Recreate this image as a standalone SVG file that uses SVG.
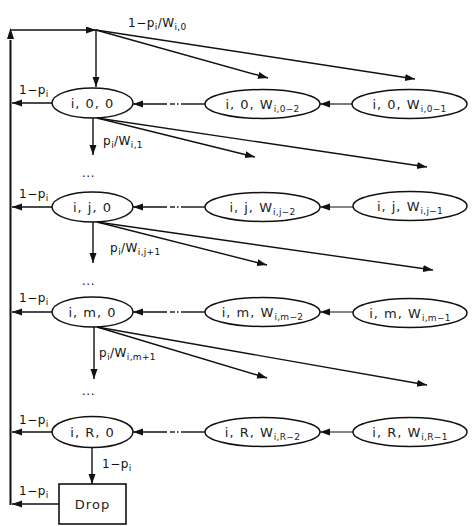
<svg xmlns="http://www.w3.org/2000/svg" width="474" height="526" viewBox="0 0 474 526">
<defs>
<marker id="ah" markerWidth="11" markerHeight="8" refX="10" refY="3.5" orient="auto" markerUnits="userSpaceOnUse">
<path d="M0,0 L10,3.5 L0,7 z" fill="#111"/>
</marker>
<style>
.ln{stroke:#111;stroke-width:1.4;fill:none}
.ar{stroke:#111;stroke-width:1.4;fill:none;marker-end:url(#ah)}
.el{fill:#fff;stroke:#111;stroke-width:1.5}
.nt{font-family:"DejaVu Sans",sans-serif;font-size:13px;letter-spacing:1px;fill:#222;text-anchor:middle}
.lb{font-family:"DejaVu Sans",sans-serif;font-size:12px;letter-spacing:0.5px;fill:#111}
.sb{font-size:9px;letter-spacing:0.3px}
</style>
</defs>
<rect width="474" height="526" fill="#fff"/>
<g id="connectors">
<line class="ln" x1="10.5" y1="505" x2="10.5" y2="40" style="stroke-width:2"/>
<path d="M10.5,28 L14,39 L7,39 z" fill="#111"/>
<line class="ar" x1="10" y1="30" x2="96" y2="30"/>
<line class="ar" x1="96" y1="30" x2="96" y2="87"/>
<line class="ar" x1="96" y1="30" x2="268" y2="78"/>
<line class="ar" x1="96" y1="30" x2="415" y2="79"/>
<line class="ar" x1="52" y1="103" x2="12" y2="103"/>
<line class="ar" x1="52" y1="207" x2="12" y2="207"/>
<line class="ar" x1="52" y1="312" x2="12" y2="312"/>
<line class="ar" x1="52" y1="432" x2="12" y2="432"/>
<line class="ar" x1="59" y1="504" x2="12" y2="504"/>
<line class="ar" x1="93" y1="118" x2="93" y2="155"/>
<line class="ar" x1="97" y1="118" x2="255" y2="157"/>
<line class="ar" x1="97" y1="118" x2="427" y2="167"/>
<line class="ar" x1="93" y1="222" x2="93" y2="263"/>
<line class="ar" x1="97" y1="222" x2="267" y2="265"/>
<line class="ar" x1="97" y1="222" x2="433" y2="270"/>
<line class="ar" x1="94" y1="327" x2="94" y2="379"/>
<line class="ar" x1="97" y1="327" x2="267" y2="378"/>
<line class="ar" x1="97" y1="327" x2="427" y2="385"/>
<line class="ar" x1="92" y1="448" x2="92" y2="484"/>
<g id="dots">
<line class="ln" x1="205" y1="104" x2="181" y2="104"/><line class="ln" x1="178.5" y1="104" x2="177" y2="104"/><line class="ln" x1="175" y1="104" x2="170" y2="104"/><line class="ar" x1="167" y1="104" x2="133" y2="104"/>
<line class="ln" x1="205" y1="207" x2="181" y2="207"/><line class="ln" x1="178.5" y1="207" x2="177" y2="207"/><line class="ln" x1="175" y1="207" x2="170" y2="207"/><line class="ar" x1="167" y1="207" x2="133" y2="207"/>
<line class="ln" x1="205" y1="312" x2="181" y2="312"/><line class="ln" x1="178.5" y1="312" x2="177" y2="312"/><line class="ln" x1="175" y1="312" x2="170" y2="312"/><line class="ar" x1="167" y1="312" x2="133" y2="312"/>
<line class="ln" x1="205" y1="432" x2="181" y2="432"/><line class="ln" x1="178.5" y1="432" x2="177" y2="432"/><line class="ln" x1="175" y1="432" x2="170" y2="432"/><line class="ar" x1="167" y1="432" x2="133" y2="432"/>
</g>
<line class="ar" x1="352" y1="104" x2="320" y2="104" style="stroke-width:1.1"/>
<line class="ar" x1="353" y1="207" x2="320" y2="207" style="stroke-width:1.1"/>
<line class="ar" x1="353" y1="312" x2="320" y2="312" style="stroke-width:1.1"/>
<line class="ar" x1="353" y1="432" x2="320" y2="432" style="stroke-width:1.1"/>
</g>
<g id="labels">
<text class="lb" x="128" y="27">1−p<tspan class="sb" dy="3">i</tspan><tspan dy="-3">/W</tspan><tspan class="sb" dy="3">i,0</tspan></text>
<text class="lb" x="19" y="94">1−p<tspan class="sb" dy="3">i</tspan></text>
<text class="lb" x="19" y="198">1−p<tspan class="sb" dy="3">i</tspan></text>
<text class="lb" x="19" y="302">1−p<tspan class="sb" dy="3">i</tspan></text>
<text class="lb" x="19" y="424">1−p<tspan class="sb" dy="3">i</tspan></text>
<text class="lb" x="19" y="495">1−p<tspan class="sb" dy="3">i</tspan></text>
<text class="lb" x="103" y="145">p<tspan class="sb" dy="3">i</tspan><tspan dy="-3">/W</tspan><tspan class="sb" dy="3">i,1</tspan></text>
<text class="lb" x="110" y="252">p<tspan class="sb" dy="3">i</tspan><tspan dy="-3">/W</tspan><tspan class="sb" dy="3">i,j+1</tspan></text>
<text class="lb" x="99" y="357">p<tspan class="sb" dy="3">i</tspan><tspan dy="-3">/W</tspan><tspan class="sb" dy="3">i,m+1</tspan></text>
<text class="lb" x="102" y="468">1−p<tspan class="sb" dy="3">i</tspan></text>
<text class="lb" x="82" y="177">...</text>
<text class="lb" x="82" y="285">...</text>
<text class="lb" x="82" y="395">...</text>
</g>
<g id="n-i00"><ellipse class="el" cx="92.5" cy="103" rx="40.5" ry="15"/><text class="nt" x="92.5" y="108">i, 0, 0</text></g>
<g id="n-i0w2"><ellipse class="el" cx="262.5" cy="104" rx="57.5" ry="14.5"/><text class="nt" x="262.5" y="109">i, 0, W<tspan class="sb" dy="3">i,0−2</tspan></text></g>
<g id="n-i0w1"><ellipse class="el" cx="409.5" cy="104" rx="57.5" ry="14.5"/><text class="nt" x="409.5" y="109">i, 0, W<tspan class="sb" dy="3">i,0−1</tspan></text></g>
<g id="n-ij0"><ellipse class="el" cx="92.5" cy="207" rx="40.5" ry="15"/><text class="nt" x="92.5" y="212">i, j, 0</text></g>
<g id="n-ijw2"><ellipse class="el" cx="262.5" cy="207" rx="57.5" ry="14.5"/><text class="nt" x="262.5" y="212">i, j, W<tspan class="sb" dy="3">i,j−2</tspan></text></g>
<g id="n-ijw1"><ellipse class="el" cx="410" cy="206" rx="57" ry="14.5"/><text class="nt" x="410" y="211">i, j, W<tspan class="sb" dy="3">i,j−1</tspan></text></g>
<g id="n-im0"><ellipse class="el" cx="92.5" cy="312" rx="40.5" ry="15"/><text class="nt" x="92.5" y="317">i, m, 0</text></g>
<g id="n-imw2"><ellipse class="el" cx="262.5" cy="312" rx="57.5" ry="14.5"/><text class="nt" x="262.5" y="317">i, m, W<tspan class="sb" dy="3">i,m−2</tspan></text></g>
<g id="n-imw1"><ellipse class="el" cx="410" cy="313" rx="57" ry="14.5"/><text class="nt" x="410" y="318">i, m, W<tspan class="sb" dy="3">i,m−1</tspan></text></g>
<g id="n-iR0"><ellipse class="el" cx="92.5" cy="432" rx="40.5" ry="15.5"/><text class="nt" x="92.5" y="437">i, R, 0</text></g>
<g id="n-iRw2"><ellipse class="el" cx="262.5" cy="432" rx="57.5" ry="14.5"/><text class="nt" x="262.5" y="437">i, R, W<tspan class="sb" dy="3">i,R−2</tspan></text></g>
<g id="n-iRw1"><ellipse class="el" cx="410" cy="432" rx="57" ry="14.5"/><text class="nt" x="410" y="437">i, R, W<tspan class="sb" dy="3">i,R−1</tspan></text></g>
<g id="n-drop"><rect x="59" y="484" width="67" height="40" fill="#fff" stroke="#111" stroke-width="1.6"/><text class="nt" x="92.5" y="509">Drop</text></g>
</svg>
